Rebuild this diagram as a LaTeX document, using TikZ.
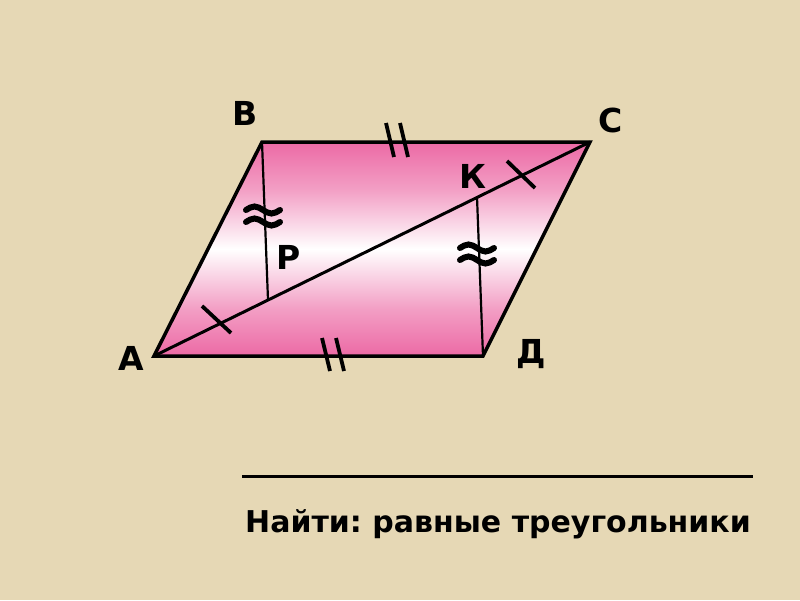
\documentclass[tikz,border=0pt]{standalone}
\usepackage{fontspec}
\setmainfont{DejaVu Sans}
\frenchspacing
\definecolor{paper}{RGB}{230,216,181}
\definecolor{rose}{RGB}{236,106,165}
\pgfdeclareverticalshading{roseband}{100bp}{color(0bp)=(rose); color(25bp)=(rose);
    color(36bp)=(rose!65!white); color(50bp)=(white); color(64bp)=(rose!65!white);
    color(75bp)=(rose); color(100bp)=(rose)}

\begin{document}
\begin{tikzpicture}[x=1pt,y=-1pt,
        lbl/.style={font=\fontsize{33}{33}\selectfont\bfseries,anchor=base},
        tickmark/.style={line width=3.8pt},
        wave/.style={line width=6pt,line cap=round}]
            \useasboundingbox (0,0) rectangle (800,600);
            \fill[paper] (0,0) rectangle (800,600);
            % vertices of the parallelogram
            \coordinate (A) at (154,356);
            \coordinate (B) at (262,142);
            \coordinate (C) at (590,142);
            \coordinate (D) at (483,356);
            % feet of the heights on AC
            \coordinate (P) at (268,300);
            \coordinate (K) at (477,197);
            \shade[shading=roseband] (A) -- (B) -- (C) -- (D) -- cycle;
            \draw[line width=3pt] (A) -- (C);
            \draw[line width=2.2pt] (B) -- (P);
            \draw[line width=2.2pt] (D) -- (K);
            \draw[line width=3.5pt,line join=miter] (A) -- (B) -- (C) -- (D) -- cycle;
            % equal segments
            \draw[tickmark] (202,306) -- (231,333);
            \draw[tickmark] (507,161) -- (535,188);
            \draw[tickmark] (386,123) -- (394,157);
            \draw[tickmark] (400,123) -- (408,157);
            \draw[tickmark] (322,338) -- (330,371);
            \draw[tickmark] (336,338) -- (344,371);
            % approx signs on the heights
            \foreach \cx/\cy in {263/209, 477/247} {
                \draw[wave] (\cx-17,\cy+1) sin ++(8.5,-3.5) cos ++(8.5,3.5) sin ++(8.5,3.5) cos ++(8.5,-3.5);
                \draw[wave] (\cx-17,\cy+13) sin ++(8.5,-3.5) cos ++(8.5,3.5) sin ++(8.5,3.5) cos ++(8.5,-3.5);
            }
            \node[lbl] (lA) at (131,370) {А};
            \node[lbl] (lB) at (245,125) {В};
            \node[lbl] (lC) at (611,132) {С};
            \node[lbl] (lD) at (531,363) {Д};
            \node[lbl] (lK) at (473,188) {К};
            \node[lbl] (lP) at (289,269) {Р};
            \coordinate (L1) at (242,476);
            \coordinate (L2) at (753,476);
            \draw[line width=3pt] (L1) -- (L2);
            \node[font=\fontsize{30}{30}\selectfont\bfseries,anchor=base] (task) at (498,532) {Найти: равные треугольники};
        \end{tikzpicture}
\end{document}
